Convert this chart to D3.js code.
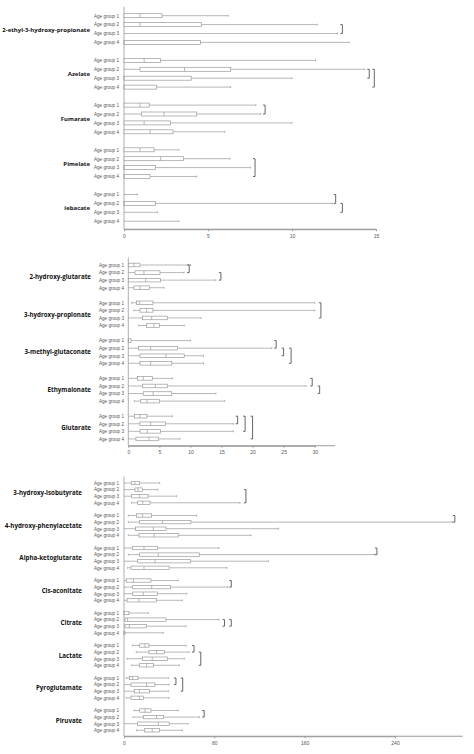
<!DOCTYPE html>
<html><head><meta charset="utf-8">
<script src="https://cdn.jsdelivr.net/npm/d3@7"></script>
<style>body{margin:0;background:#fff}</style>
</head><body>
<svg id="chart" width="474" height="754"></svg>
<script>
const groups = ['Age group 1', 'Age group 2', 'Age group 3', 'Age group 4']

// [min, q1, median, q3, max] per age group
const names1 = ['2-ethyl-3-hydroxy-propionate', 'Azelate', 'Fumarate', 'Pimelate', 'iebacate']
const stats1 = [
  [[0,0,0.95,2.26,6.2],[0,0,0.95,4.6,11.5],[0,0,0,0,12.7],[0,0,0,4.55,13.4]],
  [[0,0,1.2,2.18,11.4],[0,0.95,3.6,6.35,14.3],[0,0,0,4,10],[0,0,0,1.95,6.35]],
  [[0,0,0.95,1.5,7.85],[0,1.03,2.38,4.33,8.13],[0,0,1.2,2.76,10],[0,0,1.55,2.92,6]],
  [[0,0,0.95,1.79,3.27],[0,0,2.18,3.55,6.3],[0,0,0,1.87,7.54],[0,0,0,1.55,4.33]],
  [[0,0,0,0,0.8],[0,0,0,1.87,12.4],[0,0,0,0,2],[0,0,0,0,3.27]]
]
// [metabolite, from group, to group, x position]
const brackets1 = [[0,1,2,13.0],[1,1,2,14.6],[1,1,3,14.9],[2,0,1,8.4],[3,1,3,7.8],[4,0,1,12.6],[4,1,2,13.0]]
const ticks1 = [0, 5, 10, 15]

const names2 = ['2-hydroxy-glutarate', '3-hydroxy-propionate', '3-methyl-glutaconate', 'Ethymalonate', 'Glutarate']
const stats2 = [
  [[0,0,0.91,1.88,10],[0,1.07,2.52,5.1,8.96],[0,0,2.8,5.2,14.1],[0,0.91,1.88,3.43,5.74]],
  [[0.54,1.34,1.77,3.97,30],[0.91,1.88,2.95,3.97,30],[0,2.3,3.76,6.28,11.7],[1.66,2.95,4.13,5,9]],
  [[0,0,0,0.43,10],[0,1.66,3.6,7.9,23.1],[0,1.88,6.07,9,12.1],[0,1.88,3.6,7,12.1]],
  [[0,1.45,2.4,3.86,7.1],[0,2.3,4.35,6.33,28.6],[0,2.4,4,7,14.1],[0.97,2,3,5,15.5]],
  [[0,0.97,1.88,3,7.1],[0,1.88,3.6,6,16.9],[0,1.88,3.06,5.2,16.9],[0,1.23,3.33,4.83,8.3]]
]
const brackets2 = [[0,0,1,9.8],[0,1,2,14.9],[1,0,2,31],[2,0,1,23.8],[2,1,2,25],[2,1,3,26.2],
  [3,0,1,29.6],[3,1,2,30.8],[4,0,1,17.6],[4,0,2,18.8],[4,0,3,20]]
const ticks2 = [0, 5, 10, 15, 20, 25, 30]

const names3 = ['3-hydroxy-isobutyrate', '4-hydroxy-phenylacetate', 'Alpha-ketoglutarate', 'Cis-aconitate',
  'Citrate', 'Lactate', 'Pyroglutamate', 'Piruvate']
const stats3 = [
  [[0,6.8,9.7,13.6,31.6],[0,9.7,12.4,16.5,30],[0,6.8,13.6,21.3,46.6],[6.8,12.1,16.5,23,102.7]],
  [[3.8,11.2,16.5,24.5,64.3],[3.8,13.9,34.2,59.3,290.7],[0,10.3,26,37.2,137],[3.8,13.3,26.6,48,112.5]],
  [[0,7.7,17.7,29.5,84],[3.8,13.9,30.4,66.7,221.7],[0,12.1,27.4,58.7,128],[3.2,6.2,17.7,40,91]],
  [[0,2,8.3,23.9,48],[0,7.7,24.5,41.3,91.8],[0,7.7,17,29.5,55.5],[0,2.7,13.3,28.6,51.6]],
  [[0,0,0,4.4,21.5],[0,0.9,3.2,37.2,84],[0,0.9,4.7,20,55],[0,0,0,0.9,34.8]],
  [[7.4,13.9,18.6,22.1,55],[10.9,22.1,28.9,35.7,57.6],[2.7,16.5,25,38.4,53.4],[6.8,13.9,20,26,49]],
  [[2,5,7.7,12.4,39.3],[0,6.2,20,27.4,39.8],[0,9.1,13.6,22.4,39.3],[2,6.2,13.6,17.1,39.8]],
  [[9.1,13.9,18.6,23.9,48],[8,17.1,28.9,35.1,66.7],[0,11.8,30.4,40,56.7],[11.2,18.3,25,31.3,51.6]]
]
const brackets3 = [[0,1,3,108],[1,0,1,293],[2,0,1,224],[3,0,1,95],[4,1,2,89],[4,1,2,95],
  [5,0,1,62],[5,1,3,68],[6,0,1,46],[6,0,2,52],[7,0,1,71]]
const ticks3 = [0, 80, 160, 240]

const svg = d3.select('#chart')
const grey = '#9a9a9a'

function panel(names, stats, brackets, ticks, o) {
  const x = d3.scaleLinear().domain([0, o.xmax]).range([o.x0, o.x1])
  const g = svg.append('g')
  const rowY = (m, k) => o.y0 + m * o.block + k * o.row
  const yEnd = rowY(names.length - 1, 3) + o.row * 0.9

  g.append('g').attr('transform', `translate(0,${yEnd})`)
    .call(d3.axisBottom(x).tickValues(ticks).tickSize(2).tickSizeOuter(0))
    .call(a => a.selectAll('path,line').attr('stroke', grey))
    .call(a => a.selectAll('text').attr('fill', '#555').attr('font-size', 5).attr('font-family', 'Liberation Sans'))
  g.append('line').attr('x1', o.x0).attr('x2', x(o.axisEnd)).attr('y1', yEnd).attr('y2', yEnd).attr('stroke', grey)
  g.append('line').attr('x1', o.x0).attr('x2', o.x0).attr('y1', o.y0 - o.row).attr('y2', yEnd).attr('stroke', grey).attr('stroke-width', 0.8)

  names.forEach((name, m) => {
    g.append('text').attr('x', o.nameX).attr('y', rowY(m, 1.5) + 2.5).attr('text-anchor', 'end')
      .attr('font-size', o.nameSize).attr('font-weight', 'bold').attr('font-family', 'Open Sans').attr('fill', '#111').text(name)
    stats[m].forEach((s, k) => {
      const y = rowY(m, k)
      g.append('text').attr('x', o.labelX).attr('y', y + 1.8).attr('text-anchor', 'end')
        .attr('font-size', 4.6).attr('font-family', 'Liberation Sans').attr('fill', '#555').text(groups[k])
      g.append('line').attr('x1', x(s[0])).attr('x2', x(s[4])).attr('y1', y).attr('y2', y).attr('stroke', grey).attr('stroke-width', 0.7)
      g.append('line').attr('x1', x(s[4])).attr('x2', x(s[4])).attr('y1', y - 1).attr('y2', y + 1).attr('stroke', grey).attr('stroke-width', 0.7)
      if (s[0] > 0) g.append('line').attr('x1', x(s[0])).attr('x2', x(s[0])).attr('y1', y - 1).attr('y2', y + 1).attr('stroke', grey).attr('stroke-width', 0.7)
      if (s[3] > s[1]) {
        g.append('rect').attr('x', x(s[1])).attr('y', y - o.box / 2).attr('width', x(s[3]) - x(s[1])).attr('height', o.box)
          .attr('fill', '#fff').attr('stroke', grey).attr('stroke-width', 0.7)
        g.append('line').attr('x1', x(s[2])).attr('x2', x(s[2])).attr('y1', y - o.box / 2).attr('y2', y + o.box / 2).attr('stroke', grey).attr('stroke-width', 0.7)
      }
    })
  })

  brackets.forEach(([m, a, b, v]) => {
    const bx = x(v), ya = rowY(m, a), yb = rowY(m, b)
    g.append('path').attr('d', `M${bx - 2},${ya}H${bx}V${yb}H${bx - 2}`)
      .attr('fill', 'none').attr('stroke', '#555').attr('stroke-width', 0.9)
  })
}

panel(names1, stats1, brackets1, ticks1, {x0: 124, x1: 376, xmax: 15, axisEnd: 15, y0: 15.7, row: 8.9, block: 44.7, box: 4,
  labelX: 119, nameX: 90, nameSize: 6})
panel(names2, stats2, brackets2, ticks2, {x0: 128.3, x1: 314.7, xmax: 30, axisEnd: 33.3, y0: 265, row: 7.57, block: 37.8, box: 3.6,
  labelX: 124, nameX: 91, nameSize: 6.2})
panel(names3, stats3, brackets3, ticks3, {x0: 124, x1: 395, xmax: 240, axisEnd: 300, y0: 483, row: 6.6, block: 32.5, box: 3.4,
  labelX: 119, nameX: 82, nameSize: 6.2})
</script>
</body></html>
